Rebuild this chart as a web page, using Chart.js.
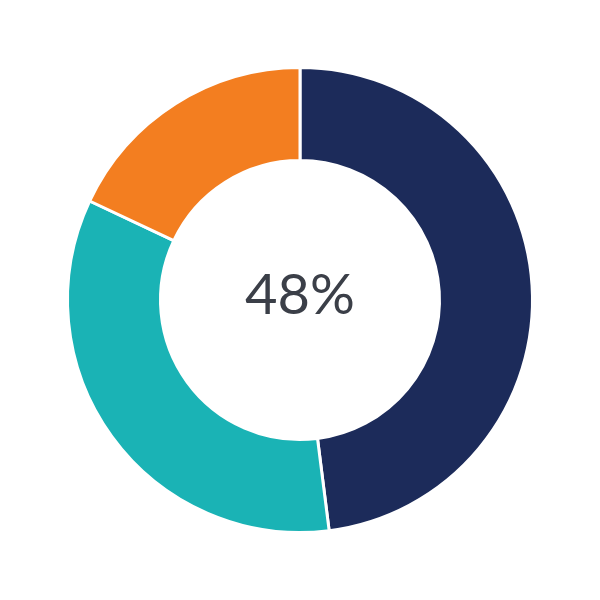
<!DOCTYPE html>
<html><head><meta charset="utf-8">
<script src="https://cdn.jsdelivr.net/npm/chart.js@4"></script>
<style>html,body{margin:0;padding:0;background:#fff}#wrap{width:600px;height:600px;position:relative}</style>
</head><body><div id="wrap"><canvas id="c"></canvas></div>
<script>
const labels = ["A", "B", "C"];
const values = [48, 34, 18];
const colors = ["#1c2b5a", "#1ab3b5", "#f37e20"];
const centerLabel = "48%";

const centerText = {
  id: 'centerText',
  afterDraw(chart) {
    const {ctx} = chart;
    const meta = chart.getDatasetMeta(0).data[0];
    ctx.save();
    ctx.font = '400 56px Lato, "Open Sans", sans-serif';
    ctx.fillStyle = '#3b3f48';
    ctx.textAlign = 'center';
    ctx.textBaseline = 'middle';
    ctx.fillText(centerLabel, meta.x, meta.y - 4);
    ctx.restore();
  }
};

new Chart(document.getElementById('c'), {
  type: 'doughnut',
  data: { labels: labels, datasets: [{ data: values, backgroundColor: colors, borderColor: '#ffffff', borderWidth: 3 }] },
  options: {
    responsive: true, maintainAspectRatio: false, animation: false,
    cutout: '60%',
    layout: { padding: 66 },
    plugins: { legend: { display: false }, tooltip: { enabled: false } }
  },
  plugins: [centerText]
});
</script></body></html>
